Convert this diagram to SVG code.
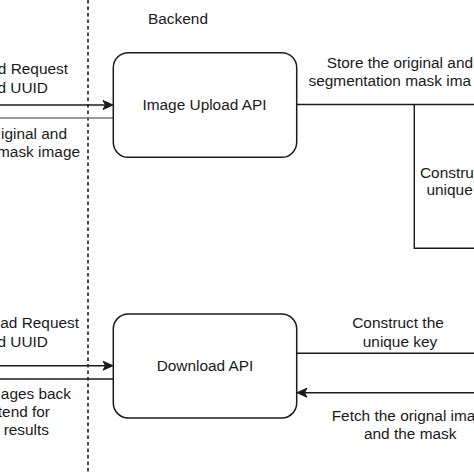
<svg xmlns="http://www.w3.org/2000/svg" width="474" height="474" viewBox="0 0 474 474">
<defs>
<style>
text{font-family:"Liberation Sans",Arial,sans-serif;font-size:15.4px;fill:#1a1a1a}
.box{fill:#fff;stroke:#1a1a1a;stroke-width:1.5}
.ln{fill:none;stroke:#1a1a1a;stroke-width:1.4}
.gray{stroke:#777}
.dash{fill:none;stroke:#1a1a1a;stroke-width:1.6;stroke-dasharray:3.5 3}
.ah{fill:#1a1a1a;stroke:#1a1a1a;stroke-width:1}
</style>
</defs>
<rect width="474" height="474" fill="#fff"/>
<line class="dash" x1="88" y1="0" x2="88" y2="474"/>
<text x="178" y="24" text-anchor="middle">Backend</text>
<g id="connectors">
<line class="ln" x1="0" y1="105" x2="106" y2="105"/>
<path class="ah" d="M113,105 L103,100.5 L105.5,105 L103,109.5 Z"/>
<line class="ln gray" x1="0" y1="118" x2="113" y2="118"/>
<line class="ln" x1="297" y1="104.5" x2="474" y2="104.5"/>
<polyline class="ln" points="414.3,104.5 414.3,248.3 474,248.3"/>
<line class="ln" x1="0" y1="365.7" x2="106" y2="365.7"/>
<path class="ah" d="M113,365.7 L103,361.2 L105.5,365.7 L103,370.2 Z"/>
<line class="ln" x1="0" y1="379" x2="113" y2="379"/>
<line class="ln" x1="297" y1="353.3" x2="474" y2="353.3"/>
<line class="ln" x1="304" y1="392.7" x2="474" y2="392.7"/>
<path class="ah" d="M297,392.7 L307,388.2 L304.5,392.7 L307,397.2 Z"/>
</g>
<g id="labels">
<text x="68" y="74" text-anchor="end">d Request</text>
<text x="48" y="93" text-anchor="end">d UUID</text>
<text x="67" y="139" text-anchor="end">iginal and</text>
<text x="80" y="157" text-anchor="end">mask image</text>
<text x="326.7" y="68">Store the original and</text>
<text x="308.5" y="86">segmentation mask ima</text>
<text x="420" y="178">Constru</text>
<text x="426.5" y="195">unique</text>
<text x="79" y="328" text-anchor="end">ad Request</text>
<text x="48" y="347" text-anchor="end">d UUID</text>
<text x="71" y="399" text-anchor="end">ages back</text>
<text x="50" y="417" text-anchor="end">tend for</text>
<text x="49" y="435" text-anchor="end">results</text>
<text x="398" y="328" text-anchor="middle">Construct the</text>
<text x="400" y="347" text-anchor="middle">unique key</text>
<text x="331.7" y="420.7">Fetch the orignal ima</text>
<text x="364" y="439">and the mask</text>
</g>
<g id="upload-api">
<rect class="box" x="113.3" y="52.7" width="183.4" height="104.6" rx="15" ry="15"/>
<text x="204.5" y="110" text-anchor="middle">Image Upload API</text>
</g>
<g id="download-api">
<rect class="box" x="113.3" y="314" width="183.4" height="104" rx="15" ry="15"/>
<text x="205" y="371" text-anchor="middle">Download API</text>
</g>
</svg>
